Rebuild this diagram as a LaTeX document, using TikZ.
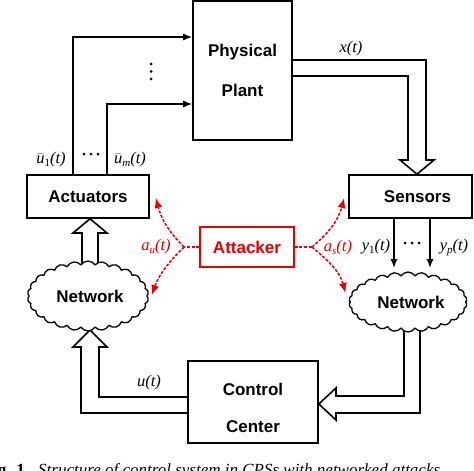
\documentclass[tikz,border=0pt]{standalone}
\usepackage{fontspec}
\setmainfont{Liberation Sans}
\newfontfamily\capfont{Liberation Serif}
\usetikzlibrary{shapes.symbols,arrows.meta,calc}
\definecolor{atkred}{RGB}{230,0,0}
\newcommand\mi[1]{{\capfont\itshape #1}}
\newcommand\sub[1]{\raisebox{-3pt}{\fontsize{11}{11}\selectfont #1}}
\begin{document}
\begin{tikzpicture}[x=1pt,y=-1pt,
  box/.style={draw,line width=1.6pt,inner sep=0pt,font=\fontsize{17}{20.5}\selectfont\bfseries,align=center},
  netcloud/.style={cloud,draw,fill=white,line width=1.3pt,cloud puffs=26,cloud puff arc=115,inner sep=0pt,font=\fontsize{17}{20}\selectfont\bfseries},
  hollow/.style={draw,line width=1.6pt,line join=miter},
  thinarrow/.style={draw,line width=1.4pt,-{Latex[length=9pt,width=7pt]}},
  atk/.style={draw=atkred,line width=1.5pt,dash pattern=on 3pt off 1.6pt,-{Latex[length=10pt,width=8pt]}},
  atkline/.style={draw=atkred,line width=1.5pt,dash pattern=on 3pt off 1.6pt},
  lbl/.style={font=\capfont\itshape\fontsize{16.5}{18}\selectfont,inner sep=0pt},
  dot/.style={circle,fill,inner sep=0pt,minimum size=3pt}]
\useasboundingbox (0,0) rectangle (474,471);

% nodes
\node[box,minimum width=99pt,minimum height=139pt] (plant) at (242.5,70.5) {Physical\\[19pt]Plant};
\node[box,minimum width=122pt,minimum height=43pt] (act) at (88,196.5) {Actuators};
\node[box,minimum width=123pt,minimum height=43pt] (sens) at (410.5,196.5) {\hspace*{14pt}Sensors};
\node[box,draw=atkred,text=atkred,minimum width=94pt,minimum height=40pt] (att) at (247,247) {Attacker};
\node[box,minimum width=130pt,minimum height=82pt] (cc) at (253,402) {\rule{0pt}{24pt}Control\\[17pt]Center};

% hollow arrows (drawn before clouds)
\draw[hollow] (plant.east |- 0,60) -- (426,60) -- (426,160) -- (434,160) -- (417,0 |- sens.north) -- (400,160) -- (408,160) -- (408,76) -- (plant.east |- 0,76);
\draw[hollow] (82,268) -- (82,233) -- (73,233) -- (90,0 |- act.south) -- (107,233) -- (98,233) -- (98,268);
\draw[hollow] (cc.west |- 0,413) -- (81,413) -- (81,347) -- (73,347) -- (90,330) -- (107,347) -- (99,347) -- (99,397) -- (cc.west |- 0,397);
\draw[hollow] (404,320) -- (404,396) -- (336,396) -- (336,388) -- (cc.east |- 0,404) -- (336,420) -- (336,413) -- (420,413) -- (420,320);

% clouds
\node[netcloud,aspect=1.75,minimum width=121pt,minimum height=70pt] (netL) at (88,296) {\hspace*{4pt}Network};
\node[netcloud,aspect=2.0,minimum width=118pt,minimum height=60pt] (netR) at (408,302) {\hspace*{6pt}Network};

% actuator outputs
\draw[thinarrow] (73,0 |- act.north) |- (plant.west |- 0,37);
\draw[thinarrow] (107,0 |- act.north) |- (plant.west |- 0,104);
% sensor outputs
\draw[thinarrow] (394,0 |- sens.south) -- (394,268);
\draw[thinarrow] (430,0 |- sens.south) -- (430,268);

% attacker connectors
\coordinate (jL) at (184,247);
\coordinate (jR) at (312,247);
\draw[atkline] (att.west) -- (jL);
\draw[atkline] (att.east) -- (jR);
\draw[atk] (jL) to[out=135,in=-75] ($(act.east)+(6,1.5)$);
\draw[atk] (jL) to[out=-135,in=70] ($(netL.east)+(4,-1)$);
\draw[atk] (jR) to[out=40,in=-105] ($(sens.west)+(-4,1.5)$);
\draw[atk] (jR) to[out=-40,in=105] ($(netR.west)+(-4,-9)$);

% labels
\node[lbl] (lu1) at (51,160) {$\bar{\hbox{\mi{u}}}$\sub{\upshape 1}(t)};
\node[lbl] (lum) at (130,160) {$\bar{\hbox{\mi{u}}}$\sub{m}(t)};
\node[dot] (h1) at (84,154) {};
\node[dot] (h2) at (91,154) {};
\node[dot] (h3) at (98,154) {};
\node[dot] (v1) at (151,64) {};
\node[dot] (v2) at (151,71.5) {};
\node[dot] (v3) at (151,79) {};
\node[lbl] (lx) at (351,49) {x(t)};
\node[lbl,text=atkred] (lau) at (156,247) {a\sub{u}(t)};
\node[lbl,text=atkred] (las) at (338,248) {a\sub{s}(t)};
\node[lbl] (ly1) at (376,247) {y\sub{\upshape 1}(t)};
\node[dot] (h4) at (405,243) {};
\node[dot] (h5) at (412,243) {};
\node[dot] (h6) at (419,243) {};
\node[lbl] (lyp) at (454,247) {y\sub{p}(t)};
\node[lbl] (lut) at (149,383) {u(t)};

% caption (cut by the page)
\node[anchor=base east,inner sep=0pt,font=\capfont\bfseries\fontsize{17}{20}\selectfont] (fig) at (25,475) {Fig. 1};
\node[anchor=base west,inner sep=0pt,font=\capfont\itshape\fontsize{17}{20}\selectfont] (cap) at (38,475) {Structure of control system in CPSs with networked attacks};
\end{tikzpicture}
\end{document}
